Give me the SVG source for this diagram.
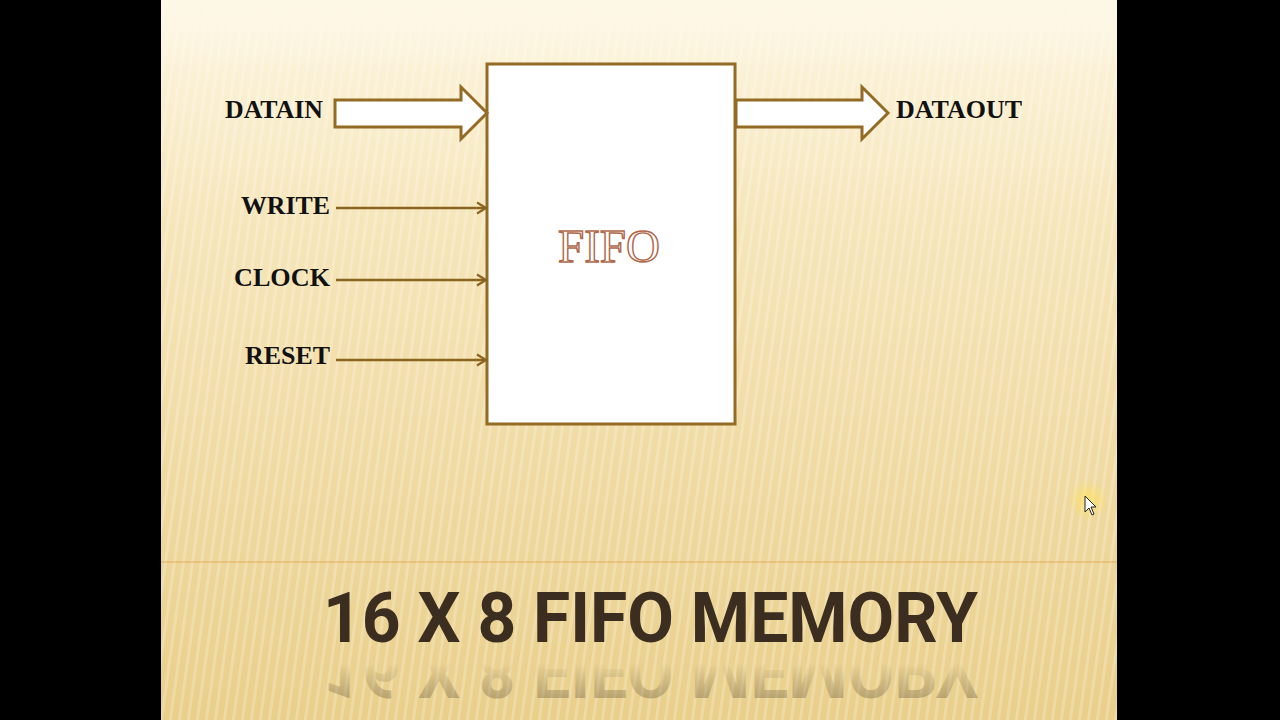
<svg xmlns="http://www.w3.org/2000/svg" width="1280" height="720" viewBox="0 0 1280 720">
  <defs>
    <linearGradient id="bg" x1="0" y1="0" x2="0" y2="1">
      <stop offset="0" stop-color="#fdf6e2"/>
      <stop offset="0.3" stop-color="#f6e6bb"/>
      <stop offset="0.75" stop-color="#eed79c"/>
      <stop offset="1" stop-color="#e9cf8a"/>
    </linearGradient>
    <pattern id="stripes" width="9" height="720" patternUnits="userSpaceOnUse" patternTransform="skewX(-8)">
      <rect x="0" y="0" width="3" height="720" fill="#ffffff" opacity="0.22"/>
    </pattern>
    <linearGradient id="fadeTop" x1="0" y1="0" x2="0" y2="1">
      <stop offset="0" stop-color="#fdf7e6" stop-opacity="1"/>
      <stop offset="0.1" stop-color="#fdf7e6" stop-opacity="0"/>
    </linearGradient>
    <linearGradient id="refl" x1="0" y1="0" x2="0" y2="1">
      <stop offset="0" stop-color="#3f3222" stop-opacity="0.45"/>
      <stop offset="0.6" stop-color="#3f3222" stop-opacity="0"/>
    </linearGradient>
    <radialGradient id="glow">
      <stop offset="0" stop-color="#ffe45a" stop-opacity="0.75"/>
      <stop offset="1" stop-color="#ffe45a" stop-opacity="0"/>
    </radialGradient>
    <marker id="arr" markerWidth="14" markerHeight="14" refX="11" refY="7" orient="auto" markerUnits="userSpaceOnUse">
      <path d="M2,1.5 L11,7 L2,12.5" fill="none" stroke="#8b6420" stroke-width="2.2"/>
    </marker>
  </defs>
  <style>
    .lbl { font-family: "Liberation Serif", "Times New Roman", serif; font-weight: bold; font-size: 26px; fill: #111; }
    .sig { stroke: #8b6420; stroke-width: 2.5; fill: none; }
    .blk { fill: #ffffff; stroke: #946b25; stroke-width: 3; stroke-linejoin: miter; }
    .title { font-family: "Roboto", "Liberation Sans", sans-serif; font-weight: 700; font-size: 70px; }
  </style>

  <rect x="0" y="0" width="1280" height="720" fill="#000"/>
  <rect x="161" y="0" width="956" height="720" fill="url(#bg)"/>
  <rect x="161" y="0" width="956" height="720" fill="url(#stripes)"/>
  <rect x="161" y="0" width="956" height="720" fill="url(#fadeTop)"/>
  <line x1="161" y1="562" x2="1117" y2="562" stroke="#e3a64a" stroke-width="1.2" opacity="0.8"/>

  <g id="fifo">
    <rect class="blk" x="487" y="64" width="248" height="360" stroke-width="2.5"/>
    <text x="558" y="262" textLength="102" lengthAdjust="spacingAndGlyphs" font-family="Liberation Serif, Times New Roman, serif" font-size="46" fill="#ffffff" stroke="#b0684a" stroke-width="1.4">FIFO</text>
  </g>

  <g id="datain">
    <text class="lbl" x="225" y="118" textLength="98" lengthAdjust="spacingAndGlyphs">DATAIN</text>
  </g>
  <g id="dataout">
    <text class="lbl" x="896" y="118" textLength="126" lengthAdjust="spacingAndGlyphs">DATAOUT</text>
  </g>
  <g id="write">
    <text class="lbl" x="241" y="214" textLength="89" lengthAdjust="spacingAndGlyphs">WRITE</text>
  </g>
  <g id="clock">
    <text class="lbl" x="234" y="286" textLength="96" lengthAdjust="spacingAndGlyphs">CLOCK</text>
  </g>
  <g id="reset">
    <text class="lbl" x="245" y="364" textLength="85" lengthAdjust="spacingAndGlyphs">RESET</text>
  </g>

  <g id="connectors">
    <path class="blk" d="M335,100 L461,100 L461,87 L487,113 L461,139 L461,127 L335,127 Z"/>
    <path class="blk" d="M736,100 L862,100 L862,87 L888,113 L862,139 L862,127 L736,127 Z"/>
    <line class="sig" x1="336" y1="208" x2="486" y2="208" marker-end="url(#arr)"/>
    <line class="sig" x1="336" y1="280" x2="486" y2="280" marker-end="url(#arr)"/>
    <line class="sig" x1="336" y1="360" x2="486" y2="360" marker-end="url(#arr)"/>
  </g>

  <g id="title">
    <text class="title" x="323" y="642" textLength="655" lengthAdjust="spacingAndGlyphs" fill="#3b2e20">16 X 8 FIFO MEMORY</text>
    <text class="title" x="323" y="642" textLength="655" lengthAdjust="spacingAndGlyphs" fill="url(#refl)" transform="translate(0,1290) scale(1,-1)" opacity="0.9">16 X 8 FIFO MEMORY</text>
  </g>

  <g id="cursor">
    <circle cx="1088" cy="500" r="20" fill="url(#glow)"/>
    <path d="M1085,496 L1085,512 L1089,508 L1092,515 L1094,514 L1091,507 L1096,507 Z" fill="#fff" stroke="#222" stroke-width="1"/>
  </g>
</svg>
